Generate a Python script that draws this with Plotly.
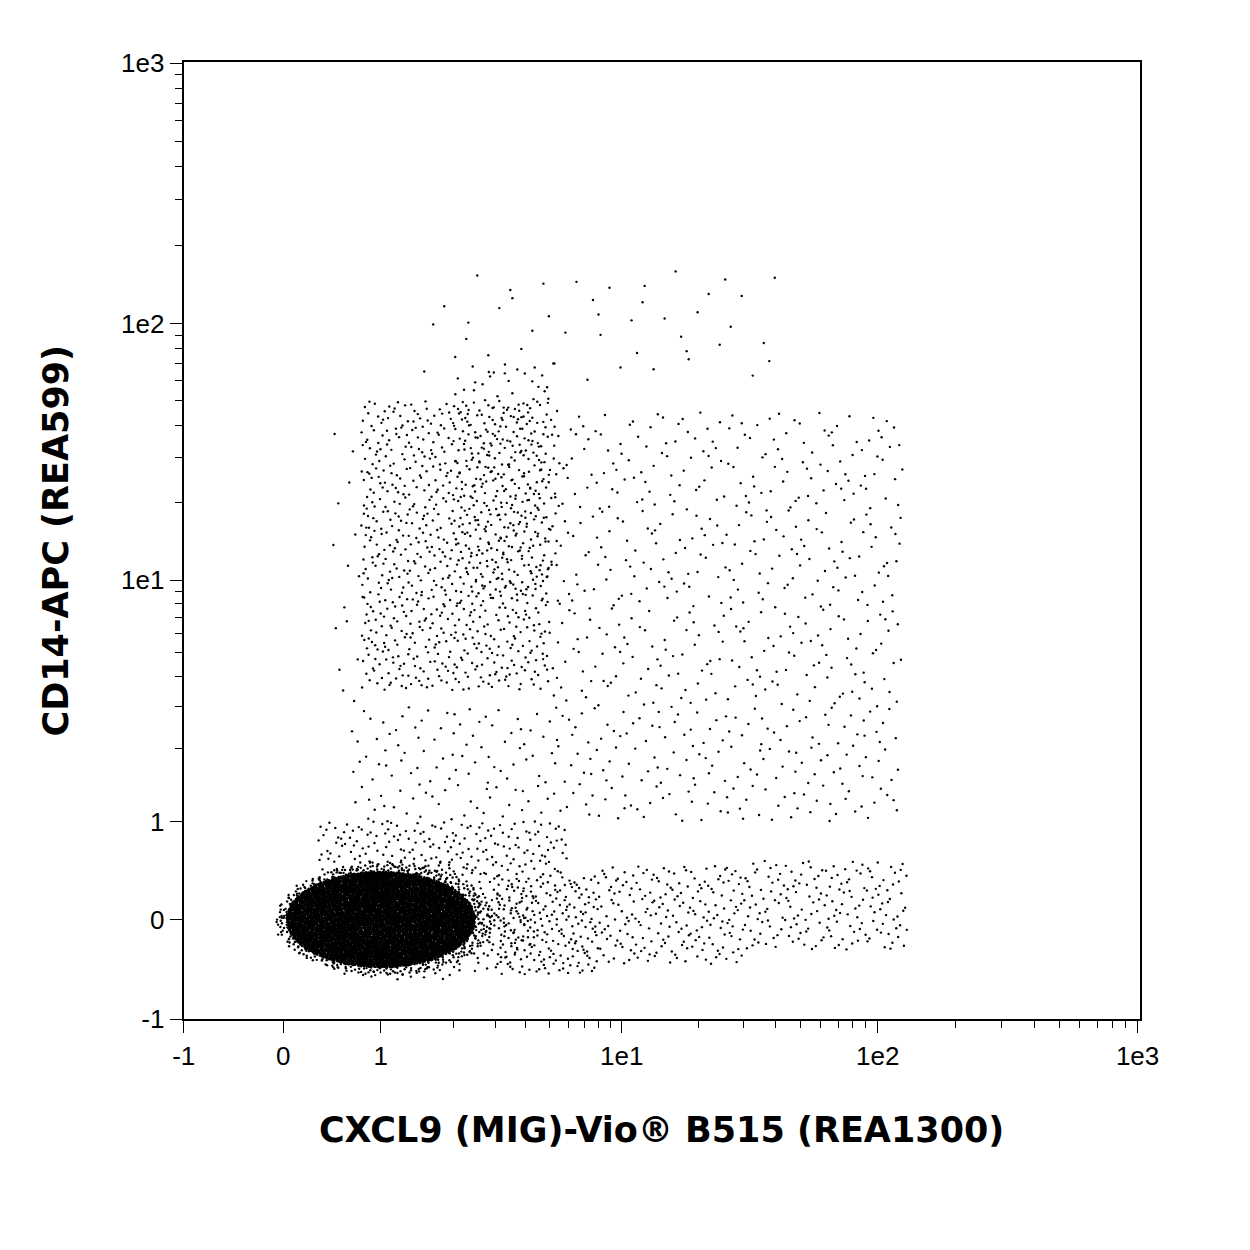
import numpy as np
import plotly.graph_objects as go

# Axis anchors: data value -> display position (biexponential-like scale)
anchor_vals = [-1, 0, 1, 10, 100, 1000]
anchor_disp = [-1.0, 0.0, 0.98, 3.40, 5.97, 8.58]
tick_text = ["-1", "0", "1", "1e1", "1e2", "1e3"]

# Populations (data units): ellipses (center x, center y, half-width / half-height in display units, count)
ell_cx = [1.0, 1.05, 1.3]
ell_cy = [0.0, 0.0, 0.0]
ell_rx = [0.95, 1.1, 1.35]
ell_ry = [0.48, 0.56, 0.62]
ell_n = [7500, 1200, 350]

# Rectangular scattered populations (data units): x_lo, x_hi, y_lo, y_hi, count
rx_lo = [3.0, 8.0, 30.0, 0.8, 5.0, 0.7, 0.35, 1.5, 0.5, 2.0]
rx_hi = [8.0, 30.0, 130.0, 5.0, 125.0, 120.0, 6.0, 40.0, 0.9, 5.5]
ry_lo = [-0.55, -0.45, -0.3, 3.5, 3.0, 1.0, 0.45, 60.0, 3.0, 8.0]
ry_hi = [0.45, 0.55, 0.6, 50.0, 45.0, 3.0, 1.0, 160.0, 40.0, 70.0]
r_n = [220, 200, 180, 850, 480, 300, 200, 45, 20, 160]


def fwd(v):
    v = np.asarray(v, dtype=float)
    out = np.empty_like(v)
    lin = v <= 1
    out[lin] = np.interp(v[lin], anchor_vals[:3], anchor_disp[:3])
    lg = np.log10(np.clip(v[~lin], 1, None))
    out[~lin] = np.interp(lg, [0, 1, 2, 3], anchor_disp[2:])
    return out


def halton(n, base, start):
    res = np.zeros(n)
    for k in range(n):
        i, f, r = k + start, 1.0, 0.0
        while i > 0:
            f /= base
            r += f * (i % base)
            i //= base
        res[k] = r
    return res


xs, ys = [], []
off = 1
for cx, cy, a, b, n in zip(ell_cx, ell_cy, ell_rx, ell_ry, ell_n):
    u = halton(n, 2, off); w = halton(n, 3, off); off += n
    r = np.sqrt(u); t = 2 * np.pi * w
    xs.append(fwd([cx])[0] + a * r * np.cos(t))
    ys.append(fwd([cy])[0] + b * r * np.sin(t))
for x0, x1, y0, y1, n in zip(rx_lo, rx_hi, ry_lo, ry_hi, r_n):
    u = halton(n, 2, off); w = halton(n, 3, off); off += n
    dx0, dx1 = fwd([x0, x1]); dy0, dy1 = fwd([y0, y1])
    xs.append(dx0 + (dx1 - dx0) * u)
    ys.append(dy0 + (dy1 - dy0) * w)
X = np.concatenate(xs); Y = np.concatenate(ys)

minor_vals = [m * 10 ** e for e in range(0, 3) for m in range(2, 10)]
minor_disp = list(fwd(minor_vals))
major_disp = list(fwd(anchor_vals))

fig = go.Figure()
fig.add_trace(go.Scatter(x=X, y=Y, mode="markers",
                         marker=dict(color="black", size=2.4, line=dict(width=0)),
                         showlegend=False, hoverinfo="skip"))
fig.add_trace(go.Scatter(x=[None], y=[None], xaxis="x2", yaxis="y2", showlegend=False))

dom_x = [168 / 1250, 1149 / 1250]
dom_y = [1 - 1021 / 1250, 1 - 41 / 1250]
rng_x = [-1.0, 8.6]
rng_y = [-1.0, 8.59]
tf = dict(family="Liberation Sans, Arial", size=26, color="black")
common = dict(showgrid=False, zeroline=False, showline=True, linecolor="black", linewidth=2,
              ticks="outside", tickcolor="black")
fig.update_layout(
    width=1250, height=1250, plot_bgcolor="white", paper_bgcolor="white",
    margin=dict(l=0, r=0, t=0, b=0),
    xaxis=dict(domain=dom_x, range=rng_x, tickvals=major_disp, ticktext=tick_text, ticklen=12,
               tickfont=tf, mirror=True, anchor="y", **common,
               title=dict(text="<b>CXCL9 (MIG)-Vio® B515 (REA1300)</b>", standoff=48,
                          font=dict(family="DejaVu Sans, Arial", size=35, color="black"))),
    yaxis=dict(domain=dom_y, range=rng_y, tickvals=major_disp, ticktext=tick_text, ticklen=12,
               tickfont=tf, mirror=True, anchor="x", **common,
               title=dict(text="<b>CD14-APC (REA599)</b>", standoff=42,
                          font=dict(family="DejaVu Sans, Arial", size=35, color="black"))),
    xaxis2=dict(domain=dom_x, range=rng_x, tickvals=minor_disp, ticktext=[""] * len(minor_disp),
                ticklen=7, overlaying="x", anchor="y2", side="bottom", **common),
    yaxis2=dict(domain=dom_y, range=rng_y, tickvals=minor_disp, ticktext=[""] * len(minor_disp),
                ticklen=7, overlaying="y", anchor="x2", side="left", **common),
)
fig.write_html("out.html")
